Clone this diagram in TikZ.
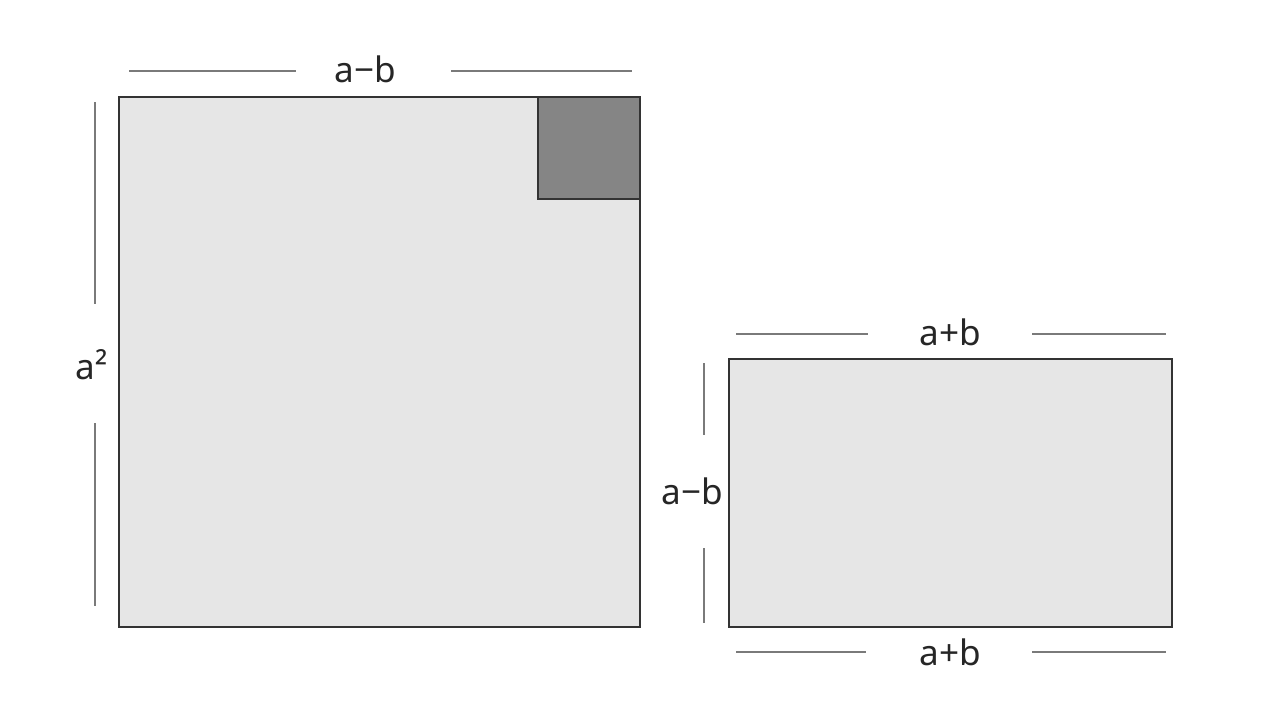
\documentclass[tikz,border=0pt]{standalone}
\usepackage{fontspec}
\setmainfont{Noto Sans}
\definecolor{areagray}{HTML}{E6E6E6}
\definecolor{cutgray}{HTML}{858585}
\definecolor{dimgray}{HTML}{7A7A7A}
\tikzset{
  area/.style = {draw = black!80, line width = 0.8pt, fill = areagray},
  dimline/.style = {draw = dimgray, line width = 0.6pt},
  dimlabel/.style = {inner sep = 1pt, text = black!85, font = \fontsize{20}{24}\selectfont}
}

\begin{document}
\begin{tikzpicture}[x = 0.02cm, y = -0.02cm]
        \useasboundingbox (0, 0) rectangle (1280, 720);
        % left square with the corner cut
        \draw[area] (119, 97) rectangle (640, 627);
        \draw[draw = black!80, line width = 0.8pt, fill = cutgray] (538, 97) rectangle (640, 199);
        \draw[dimline] (129, 71) -- (296, 71);
        \draw[dimline] (451, 71) -- (632, 71);
        \node[dimlabel] (top1) at (365, 69) {a−b};
        \draw[dimline] (95, 102) -- (95, 304);
        \draw[dimline] (95, 423) -- (95, 606);
        \node[dimlabel] (side1) at (92, 365) {a²};
        % right rectangle
        \draw[area] (729, 359) rectangle (1172, 627);
        \draw[dimline] (736, 334) -- (868, 334);
        \draw[dimline] (1032, 334) -- (1166, 334);
        \node[dimlabel] (top2) at (950, 332) {a+b};
        \draw[dimline] (736, 652) -- (866, 652);
        \draw[dimline] (1032, 652) -- (1166, 652);
        \node[dimlabel] (bot2) at (950, 652) {a+b};
        \draw[dimline] (704, 363) -- (704, 435);
        \draw[dimline] (704, 548) -- (704, 623);
        \node[dimlabel] (side2) at (692, 491) {a−b};
      \end{tikzpicture}
\end{document}
